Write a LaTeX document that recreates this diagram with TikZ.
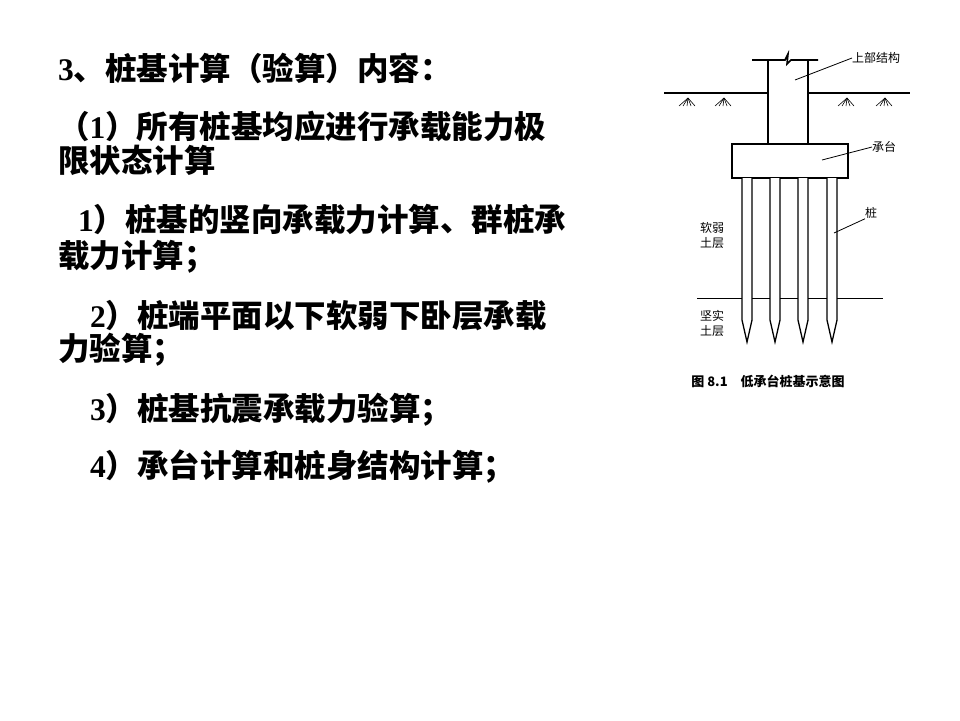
\documentclass[tikz,border=0pt]{standalone}
\usepackage{fontspec}
\setmainfont{Liberation Serif}
\newfontfamily\cjk{Noto Sans CJK SC}
\newcommand{\dg}[1]{{\rmfamily\bfseries #1}}
\begin{document}
\begin{tikzpicture}[x=1pt,y=-1pt,
  txt/.style={anchor=west,inner sep=0pt,font=\cjk\bfseries\fontsize{31.5}{36}\selectfont},
  lbl/.style={inner sep=0pt,font=\cjk\fontsize{12}{15}\selectfont},
  thick line/.style={line width=1.6pt},
  lead/.style={line width=0.8pt}]
\useasboundingbox (0,0) rectangle (960,720);
\node[txt] (t1) at (58,68) {\dg{3}、桩基计算（验算）内容：};
\node[txt] (t2) at (58,126) {（\dg{1}）所有桩基均应进行承载能力极};
\node[txt] (t3) at (58,160) {限状态计算};
\node[txt] (t4) at (58,220) {\hspace{20pt}\dg{1}）桩基的竖向承载力计算、群桩承};
\node[txt] (t5) at (58,257) {载力计算；};
\node[txt] (t6) at (58,316) {\hspace{32pt}\dg{2}）桩端平面以下软弱下卧层承载};
\node[txt] (t7) at (58,350) {力验算；};
\node[txt] (t8) at (58,410) {\hspace{32pt}\dg{3}）桩基抗震承载力验算；};
\node[txt] (t9) at (58,467) {\hspace{32pt}\dg{4}）承台计算和桩身结构计算；};
% structure
\draw[thick line] (752,60) -- (785,60) -- (788,54) -- (787,64) -- (791,60) -- (818,60);
\draw[thick line] (768,60) -- (768,144);
\draw[thick line] (808,60) -- (808,144);
\draw[thick line] (664,93) -- (768,93);
\draw[thick line] (808,93) -- (910,93);
\foreach \gx in {688,724,847,885}{
  \foreach \a in {-9,-5,-1,3,7}{\draw[line width=0.6pt] (\gx,98) -- (\gx+\a,106);}
}
\node[draw,line width=1.3pt,minimum width=116pt,minimum height=34pt,inner sep=0pt] (cap) at (790,161) {};
\draw[line width=0.8pt] (697,298) -- (883,298);
\foreach \px in {747,775,803,832}{
  \fill[white] (\px-5,178) rectangle (\px+5,320);
  \draw[line width=1.3pt] (\px-5,178) -- (\px-5,320) -- (\px,342) -- (\px+5,320) -- (\px+5,178);
}
\node[lbl,anchor=west] (l1) at (852,58) {上部结构};
\draw[lead] (795,80) -- (l1.west);
\node[lbl,anchor=west] (l2) at (872,147) {承台};
\draw[lead] (822,160) -- (l2.west);
\node[lbl,anchor=west] (l3) at (865,213) {桩};
\draw[lead] (834,233) -- (l3.south west);
\node[lbl,align=center] (l4) at (712,235) {软弱\\土层};
\node[lbl,align=center] (l5) at (712,323) {坚实\\土层};
\node[lbl,font=\cjk\bfseries\fontsize{13}{15}\selectfont] (cap2) at (768,381) {图 8.1\quad 低承台桩基示意图};
\end{tikzpicture}
\end{document}
